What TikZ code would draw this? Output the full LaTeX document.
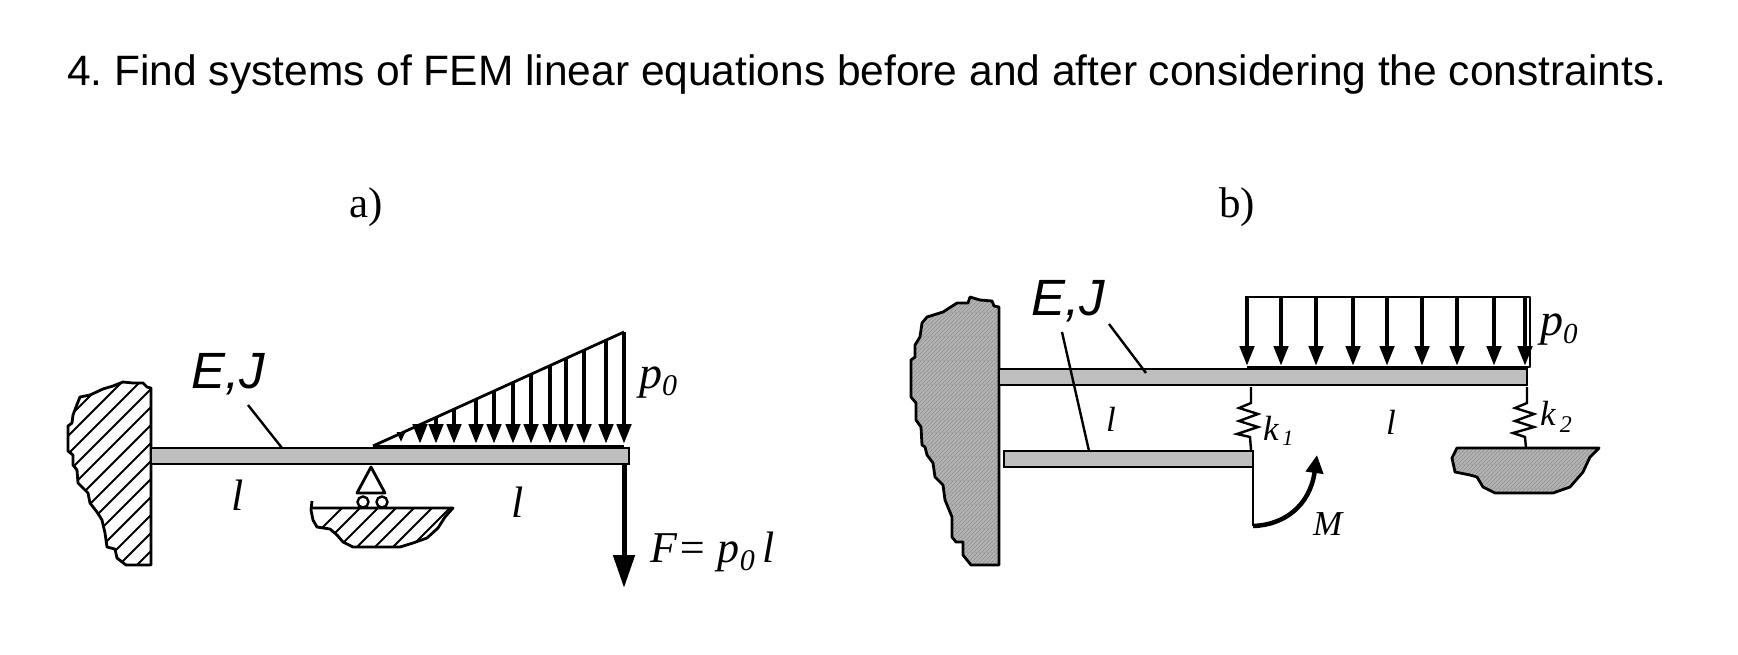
\documentclass[tikz,border=0pt]{standalone}
\usepackage{fontspec}
\setmainfont{Liberation Serif}
\newfontfamily\sansfont{Liberation Sans}
\usetikzlibrary{arrows.meta}
\definecolor{beamgray}{HTML}{BFBFBF}
\definecolor{wallgray}{HTML}{B4B4B4}
\tikzstyle{outline} = [line width=2.8pt, line join=round]
\tikzstyle{beam} = [rectangle, draw, line width=2.6pt, fill=beamgray, inner sep=0pt, outer sep=0pt, anchor=north west]
\tikzstyle{thin line} = [line width=2.4pt]
\tikzstyle{loadarrow} = [line width=4.5pt, -{Triangle[length=20pt,width=14pt]}]
\tikzstyle{ej} = [inner sep=0pt, anchor=base west, font=\sansfont\itshape\fontsize{51}{51}\selectfont]
\tikzstyle{ital} = [inner sep=0pt, anchor=base west, font=\itshape\fontsize{44}{44}\selectfont]
\tikzstyle{big ital} = [inner sep=0pt, anchor=base west, font=\itshape\fontsize{46}{46}\selectfont]
\tikzstyle{small ital} = [inner sep=0pt, anchor=base west, font=\itshape\fontsize{35}{35}\selectfont]
\newcommand{\wallApath}{(151,388) -- (147,387) -- (143,383) -- (133,383) -- (123,382) -- (113,386) -- (103,389) -- (90,395) -- (80,397) -- (76,407) -- (73,415) -- (72,423) -- (68,426) -- (68,451) -- (73,455) -- (73,465) -- (77,470) -- (78,483) -- (88,493) -- (90,503) -- (97,512) -- (102,520) -- (105,533) -- (107,547) -- (115,549) -- (117,558) -- (126,565) -- (151,565) -- cycle}
\newcommand{\groundApath}{(312,501) -- (311,510) -- (313,520) -- (317,527) -- (330,529) -- (337,535) -- (343,542) -- (353,547) -- (400,547) -- (413,543) -- (427,538) -- (438,528) -- (445,517) -- (453,508) -- (312,508)}
\newcommand{\wallBpath}{(999,307) -- (994,306) -- (992,301) -- (980,300) -- (970,297) -- (968,303) -- (957,303) -- (943,312) -- (927,317) -- (922,323) -- (920,337) -- (915,345) -- (915,357) -- (911,360) -- (911,397) -- (916,403) -- (916,420) -- (921,427) -- (922,445) -- (925,447) -- (927,455) -- (933,463) -- (935,477) -- (943,485) -- (945,500) -- (952,517) -- (952,537) -- (956,542) -- (963,542) -- (963,555) -- (971,565) -- (999,565) -- cycle}
\newcommand{\groundBpath}{(1457,448) -- (1452,458) -- (1455,472) -- (1470,475) -- (1477,477) -- (1483,487) -- (1495,493) -- (1553,493) -- (1570,487) -- (1583,472) -- (1590,457) -- (1599,448) -- cycle}
\begin{document}
\frenchspacing
\begin{tikzpicture}[x=1pt, y=-1pt]
    \useasboundingbox (0,0) rectangle (1738,654);
    % Title and captions
    \node [inner sep=0pt, anchor=base west, font=\sansfont\fontsize{42.5}{42.5}\selectfont] (title) at (67,85) {4. Find systems of FEM linear equations before and after considering the constraints.};
    \node [inner sep=0pt, anchor=base, font=\fontsize{43}{43}\selectfont] (capA) at (366,217) {a)};
    \node [inner sep=0pt, anchor=base, font=\fontsize{43}{43}\selectfont] (capB) at (1237,217) {b)};

    % Left picture: wall and ground
    \begin{scope}
        \clip \wallApath;
        \foreach \hx in {0,18,...,270}
            \draw [line width=2pt] (\hx-120,570) -- ++(200,-200);
    \end{scope}
    \draw [outline] \wallApath;
    \begin{scope}
        \clip \groundApath -- cycle;
        \foreach \hx in {0,18,...,200}
            \draw [line width=2pt] (\hx+300,550) -- ++(60,-60);
    \end{scope}
    \draw [outline] \groundApath;

    % Left picture: beam
    \node [beam, minimum width=478pt, minimum height=16pt] (beamA) at (151,448) {};
    \coordinate (leadA) at (248,405);
    \draw [thin line] (leadA) -- ([xshift=131pt]beamA.north west);

    % Left picture: support
    \coordinate (apex) at (371,467);
    \draw [outline] (apex) -- (357,493) -- (385,493) -- cycle;
    \draw [thin line] (363,502) circle (5.5);
    \draw [thin line] (382,502) circle (5.5);

    % Left picture: loads
    \coordinate (loadstart) at (373,446);
    \coordinate (loadtop) at (624,332);
    \draw [outline] (loadstart) -- (loadtop);
    \draw [outline] (loadstart) -- (624,446);
    \foreach \ax in {420,436,454,476,494,513,531,550,566,584,606,624} {
        \pgfmathsetmacro{\ay}{446-(\ax-373)*0.4542}
        \draw [loadarrow] (\ax,\ay) -- (\ax,444);
    }
    \draw [line width=2.5pt, -{Triangle[length=10pt,width=8pt]}] (401,433) -- (401,442);
    \draw [line width=5pt, -{Triangle[length=33pt,width=21pt]}] ([xshift=-5pt]beamA.south east) -- (624,588);

    % Left picture: labels
    \node [ej] (ejA) at (191,388) {E,J};
    \node [ital] (lenA) at (231,510) {l};
    \node [ital] (lenB) at (511,517) {l};
    \node [big ital] (pA) at (639,388) {p\raisebox{-7pt}{\fontsize{30}{30}\selectfont 0}};
    \node [ital] (force) at (650,562) {F= p\raisebox{-8pt}{\fontsize{30}{30}\selectfont 0}\,l};

    % Right picture: wall and ground
    \fill [wallgray] \wallBpath;
    \begin{scope}
        \clip \wallBpath;
        \foreach \hx in {0,4,...,320}
            \draw [line width=0.7pt, gray!85] (\hx+680,570) -- ++(280,-280);
        \foreach \hy in {300,312,...,564}
            \draw [line width=1pt, gray!70] (905,\hy) -- (1000,\hy);
    \end{scope}
    \draw [outline] \wallBpath;
    \fill [wallgray] \groundBpath;
    \begin{scope}
        \clip \groundBpath;
        \foreach \hx in {0,4,...,140}
            \draw [line width=0.7pt, gray!85] (\hx+1415,495) -- ++(50,-50);
        \foreach \hy in {452,464,...,492}
            \draw [line width=1pt, gray!70] (1450,\hy) -- (1600,\hy);
    \end{scope}
    \draw [outline] \groundBpath;

    % Right picture: beams
    \node [beam, minimum width=528pt, minimum height=16pt] (beamU) at (999,369) {};
    \node [beam, minimum width=249pt, minimum height=16pt] (beamL) at (1004,451) {};
    \coordinate (leadU) at (1109,324);
    \coordinate (leadL) at (1062,332);
    \draw [thin line] (leadU) -- ([xshift=147pt,yshift=-4pt]beamU.north west);
    \draw [thin line] (leadL) -- ([xshift=85pt]beamL.north west);

    % Right picture: springs
    \draw [thin line] (1251,387) -- (1251,403) -- (1239,408) -- (1258,414) -- (1239,421) -- (1258,427) -- (1237,434) -- (1250,437) -- (1251,450);
    \draw [thin line] (1527,387) -- (1527,403) -- (1515,408) -- (1534,414) -- (1515,421) -- (1534,427) -- (1513,433) -- (1525,437) -- (1526,448);

    % Right picture: loads
    \draw [outline] (1245,297) -- (1530,297) -- (1530,367) -- (1247,367);
    \foreach \ax in {1247,1281,1316,1353,1387,1422,1457,1494,1525}
        \draw [loadarrow] (\ax,297) -- (\ax,366);

    % Right picture: moment
    \coordinate (armend) at (1253,526);
    \draw [thin line] (beamL.south east) -- (armend);
    \draw [line width=4.5pt, -{Triangle[length=18pt,width=17pt]}] (armend) .. controls (1285,525) and (1310,505) .. (1317,455);

    % Right picture: labels
    \node [ej] (ejB) at (1031,315) {E,J};
    \node [small ital] (lenC) at (1106,431) {l};
    \node [small ital] (lenD) at (1386,434) {l};
    \node [small ital] (kA) at (1263,440) {k\raisebox{-5pt}{\fontsize{22}{22}\selectfont\,1}};
    \node [small ital] (kB) at (1540,425) {k\raisebox{-7pt}{\fontsize{24}{24}\selectfont\,2}};
    \node [small ital] (moment) at (1313,535) {M};
    \node [big ital] (pB) at (1540,335) {p\raisebox{-8pt}{\fontsize{29}{29}\selectfont 0}};
\end{tikzpicture}
\end{document}
